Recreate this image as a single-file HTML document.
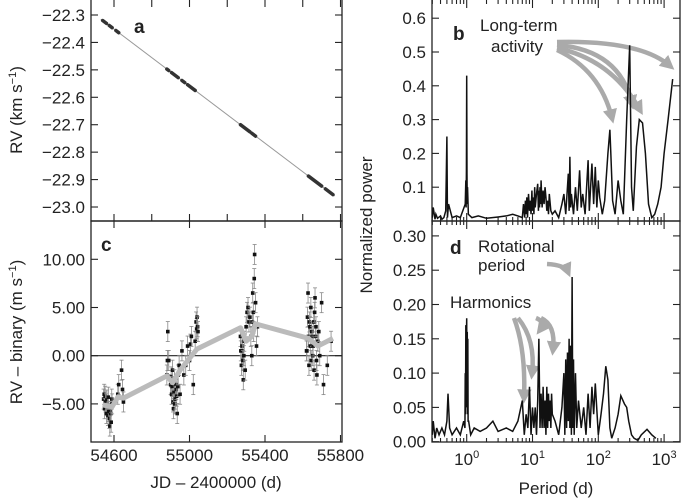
<!DOCTYPE html>
<html><head><meta charset="utf-8"><style>
html,body{margin:0;padding:0;background:#fff;}
svg{display:block;font-family:"Liberation Sans",Arial,sans-serif;}
</style></head><body>
<svg id="fig" width="685" height="498" viewBox="0 0 685 498" xmlns="http://www.w3.org/2000/svg">
<defs>
<marker id="ah" viewBox="0 0 10 10" refX="6" refY="5" markerWidth="3.2" markerHeight="3.2" orient="auto"><path d="M0,0 L10,5 L0,10 z" fill="#aaa"/></marker>
</defs>
<g id="static">
<text transform="translate(22,110) rotate(-90)" font-size="17" text-anchor="middle" fill="#222">RV (km s<tspan font-size="11" dy="-6">−1</tspan><tspan dy="6">)</tspan></text>
<text transform="translate(22,332) rotate(-90)" font-size="17" text-anchor="middle" fill="#222">RV – binary (m s<tspan font-size="11" dy="-6">−1</tspan><tspan dy="6">)</tspan></text>
<text x="216" y="488" font-size="17" text-anchor="middle" fill="#222">JD – 2400000 (d)</text>
<text transform="translate(372,225) rotate(-90)" font-size="17" text-anchor="middle" fill="#222">Normalized power</text>
<text x="556" y="494" font-size="17" text-anchor="middle" fill="#222">Period (d)</text>
<text x="134" y="33" font-size="19" font-weight="bold" fill="#222">a</text>
<text x="101" y="251" font-size="19" font-weight="bold" fill="#222">c</text>
<text x="453" y="40" font-size="19" font-weight="bold" fill="#222">b</text>
<text x="450" y="254" font-size="19" font-weight="bold" fill="#222">d</text>
<text font-size="17" fill="#222"><tspan x="480" y="31">Long-term</tspan><tspan x="491" y="52">activity</tspan></text>
<text font-size="17" fill="#222"><tspan x="478" y="252">Rotational</tspan><tspan x="478" y="271">period</tspan></text>
<text x="450" y="308" font-size="17" fill="#222">Harmonics</text>
</g>
<g id="arrows" fill="none" stroke="#aaa" stroke-width="4.5" marker-end="url(#ah)">
<path d="M557,42 Q640,40 670,66"/>
<path d="M557,45 Q620,50 632,104"/>
<path d="M557,48 Q612,60 640,110"/>
<path d="M557,50 Q600,70 612,118"/>
<path d="M547,264 Q565,265 568,272"/>
<path d="M514,318 Q526,350 524,398"/>
<path d="M518,318 Q536,340 532,374"/>
<path d="M536,318 Q546,322 540,330"/>
<path d="M541,318 Q556,325 553,350"/>
</g>
<g id="plots"></g>
</svg>
<script>
// ---------- data ----------
const aTicks=[-22.3,-22.4,-22.5,-22.6,-22.7,-22.8,-22.9,-23.0];
const cTicks=[10,5,0,-5];
const cTickLabels=["10.00","5.00","0.00","-5.00"];
const jdTicks=[54600,55000,55400,55800];
const bTicks=[0.1,0.2,0.3,0.4,0.5,0.6];
const dTicks=[0,0.05,0.1,0.15,0.2,0.25,0.3];
const dTickLabels=["0.00","0.05","0.10","0.15","0.20","0.25","0.30"];
const binaryLine=[[54530,-22.315],[55770,-22.96]];
const aSegments=[[54540,54560],[54575,54590],[54610,54625],[54880,54890],[54905,54940],[54960,54975],[54990,55030],[55270,55320],[55330,55350],[55630,55700],[55720,55760]];
const modelJD=[54540,54590,54620,54650,54880,54910,54950,55040,55270,55300,55330,55350,55630,55680,55760];
const modelRV=[-5.1,-5.3,-4.3,-4.4,-2.1,-2.8,-1.5,0.7,2.9,1.5,2.0,3.3,1.8,1.0,1.8];
const obsJD=[54545,54548,54550,54553,54555,54558,54560,54562,54565,54568,54570,54572,54575,54578,54580,54583,54585,54588,54590,54620,54625,54640,54645,54650,54880,54883,54885,54890,54900,54903,54905,54908,54910,54913,54915,54918,54920,54922,54925,54928,54930,54932,54935,54938,54940,54945,54950,54960,54970,54980,54990,55000,55005,55010,55020,55030,55035,55038,55040,55043,55045,55270,55272,55275,55278,55280,55283,55285,55288,55290,55295,55300,55305,55310,55315,55320,55325,55330,55333,55335,55338,55340,55343,55345,55350,55355,55360,55620,55622,55625,55628,55630,55633,55635,55638,55640,55643,55645,55648,55650,55653,55655,55658,55660,55663,55665,55668,55670,55673,55675,55680,55685,55690,55700,55710,55730,55750];
const obsRV=[-4.5,-4.0,-5.5,-4.2,-4.8,-5.0,-6.0,-4.6,-5.2,-6.2,-4.3,-5.8,-6.5,-7.3,-5.8,-6.0,-6.9,-4.5,-5.0,-4.0,-3.0,-1.5,-3.5,-4.8,-2.0,-0.5,2.5,-0.5,-3.0,-2.2,-4.0,-3.2,-1.5,-4.8,-5.5,-3.8,-2.5,-5.0,-4.5,-3.0,-3.5,-4.2,-6.0,-3.2,-2.0,-1.0,-4.0,0.5,-2.0,-1.0,1.0,-0.5,1.2,2.0,-3.0,1.5,3.5,2.8,4.0,3.0,2.5,2.0,0.5,-1.0,1.0,0.5,-0.5,-2.5,0.0,1.5,-1.5,3.0,4.5,5.0,3.5,4.0,2.0,0.0,3.5,6.5,4.5,2.5,8.0,10.5,5.5,1.0,3.0,0.5,0.5,4.0,6.5,2.0,-1.0,3.5,3.0,1.0,5.0,-0.5,2.5,2.0,0.0,1.0,3.5,-1.5,4.5,6.0,2.0,3.0,-0.5,-2.0,1.5,2.5,0.0,5.5,-3.0,-1.0,1.5,0.5];
const bPeriod=[0.3,0.31,0.33,0.34,0.36,0.4,0.42,0.45,0.48,0.5,0.51,0.53,0.6,0.7,0.8,0.95,0.97,0.98,0.99,1.0,1.01,1.02,1.03,1.06,1.2,1.5,2,3,4,5,6,7,7.3,7.6,7.8,8,8.2,8.4,8.7,9,9.2,9.5,9.8,10,10.3,10.5,10.8,11,11.5,12,12.3,12.5,12.8,13,13.3,13.5,14,14.5,15,15.5,16,16.5,17,17.5,18,19,20,22,25,28,30,32,35,36,37,38,39,42,45,48,52,55,58,63,70,73,80,85,90,95,100,105,115,125,140,150,155,165,180,200,220,240,270,300,320,340,380,420,470,520,580,650,720,800,900,1000,1150,1350];
const bPower=[0.01,0.04,0.005,0.02,0.008,0.015,0.005,0.01,0.03,0.25,0.01,0.05,0.01,0.015,0.01,0.05,0.12,0.04,0.15,0.43,0.14,0.05,0.1,0.02,0.01,0.015,0.008,0.012,0.015,0.02,0.015,0.01,0.05,0.01,0.06,0.02,0.07,0.01,0.08,0.03,0.06,0.02,0.09,0.03,0.07,0.02,0.1,0.04,0.08,0.11,0.03,0.09,0.04,0.1,0.05,0.12,0.04,0.09,0.05,0.1,0.07,0.03,0.06,0.02,0.08,0.03,0.02,0.03,0.01,0.05,0.08,0.02,0.14,0.03,0.19,0.04,0.08,0.02,0.1,0.03,0.15,0.04,0.08,0.02,0.18,0.03,0.17,0.05,0.16,0.04,0.12,0.07,0.02,0.06,0.2,0.27,0.2,0.06,0.02,0.12,0.06,0.02,0.3,0.52,0.1,0.03,0.22,0.3,0.29,0.2,0.05,0.01,0.02,0.05,0.1,0.2,0.3,0.42];
const dPeriod=[0.3,0.31,0.33,0.35,0.38,0.42,0.46,0.5,0.52,0.55,0.6,0.7,0.8,0.9,0.94,0.95,0.96,0.97,0.98,0.99,1.0,1.01,1.02,1.03,1.04,1.05,1.07,1.15,1.3,1.6,2,2.5,3,4,5,6,7,7.5,8,8.5,9,9.5,10,10.5,11,11.5,12,12.5,13,13.5,14,14.5,15,15.5,16,16.5,17,17.5,18,18.5,19,19.5,20,22,25,28,30,31,32,33,34,35,36,37,38,39,40,41,42,43,45,47,50,55,60,65,70,75,80,85,90,100,110,120,130,140,150,160,180,200,220,250,270,290,320,350,400,450,550,650,750,850,1000,1300];
const dPower=[0.01,0.03,0.005,0.02,0.01,0.02,0.01,0.03,0.07,0.02,0.01,0.02,0.01,0.03,0.02,0.1,0.04,0.17,0.06,0.15,0.18,0.05,0.16,0.04,0.15,0.03,0.03,0.01,0.02,0.015,0.02,0.03,0.015,0.02,0.015,0.03,0.06,0.01,0.04,0.02,0.08,0.01,0.05,0.02,0.05,0.01,0.06,0.15,0.02,0.07,0.02,0.08,0.02,0.06,0.01,0.08,0.02,0.07,0.03,0.06,0.02,0.07,0.04,0.03,0.01,0.05,0.1,0.01,0.12,0.02,0.13,0.03,0.15,0.02,0.14,0.01,0.24,0.02,0.12,0.01,0.1,0.02,0.06,0.02,0.05,0.01,0.07,0.02,0.08,0.04,0.085,0.01,0.04,0.07,0.11,0.09,0.02,0.005,0.02,0.04,0.067,0.055,0.05,0.03,0.01,0.005,0.002,0.01,0.018,0.01,0.005];

// ---------- scales ----------
const NS="http://www.w3.org/2000/svg";
const plots=document.getElementById('plots');
function mk(tag,attrs,parent){const e=document.createElementNS(NS,tag);for(const k in attrs)e.setAttribute(k,attrs[k]);(parent||plots).appendChild(e);return e;}
const L=91,R=342,PL=432,PR=680;
const xJD=d=>114+(d-54600)*75.5/400;
const yA=v=>15+(-22.3-v)*274.3;
const yC=v=>355.7-v*9.64;
const xP=p=>466.7+Math.log10(p)*65.8;
const yB=v=>221-v*338;
const yD=v=>441.7-v*686;

function frame(x0,y0,x1,y1,name){const r=mk('rect',{x:x0,y:y0,width:x1-x0,height:y1-y0,fill:'none',stroke:'#222','stroke-width':1.3});}
function txt(x,y,s,anchor,name){const t=mk('text',{x:x,y:y,'font-size':17,'text-anchor':anchor,fill:'#222'});t.textContent=s;return t;}
function tick(x1,y1,x2,y2){mk('line',{x1:x1,y1:y1,x2:x2,y2:y2,stroke:'#222','stroke-width':1.1});}
function pts(xs,ys,fx,fy){const n=Math.min(xs.length,ys.length);const out=[];for(let i=0;i<n;i++)out.push(fx(xs[i])+','+fy(ys[i]));return out.join(' ');}

// Panel a
frame(L,-1,R,221,'panel-a-frame');
aTicks.forEach(v=>{const y=yA(v);tick(L,y,L+7,y);tick(R,y,R-7,y);txt(L-6,y+6,v.toFixed(1).replace('-','−'),'end','a-y-tick-label');});
for(let d=54600;d<=55800;d+=200){const x=xJD(d);tick(x,0,x,7);tick(x,221,x,214);}
const bl=mk('line',{x1:xJD(binaryLine[0][0]),y1:yA(binaryLine[0][1]),x2:xJD(binaryLine[1][0]),y2:yA(binaryLine[1][1]),stroke:'#999','stroke-width':1});


const slope=(binaryLine[1][1]-binaryLine[0][1])/(binaryLine[1][0]-binaryLine[0][0]);
aSegments.forEach(s=>{const v0=binaryLine[0][1]+slope*(s[0]-binaryLine[0][0]),v1=binaryLine[0][1]+slope*(s[1]-binaryLine[0][0]);
 const e=mk('line',{x1:xJD(s[0]),y1:yA(v0),x2:xJD(s[1]),y2:yA(v1),stroke:'#333','stroke-width':3.5,'stroke-linecap':'round'});
 
 });

// Panel c
frame(L,221,R,442,'panel-c-frame');
cTicks.forEach((v,i)=>{const y=yC(v);tick(L,y,L+7,y);tick(R,y,R-7,y);txt(L-6,y+6,cTickLabels[i].replace('-','−'),'end','c-y-tick-label');});
jdTicks.forEach(d=>{const x=xJD(d);tick(x,442,x,435);tick(x,221,x,228);txt(x,461,String(d),'middle','c-x-tick-label');});
const zl=mk('line',{x1:L,y1:yC(0),x2:R,y2:yC(0),stroke:'#222','stroke-width':1.2});


obsJD.forEach((d,i)=>{if(i>=obsRV.length)return;const x=xJD(d),y=yC(obsRV[i]);
 mk('line',{x1:x,y1:y-10,x2:x,y2:y+10,stroke:'#888','stroke-width':0.8});
 mk('line',{x1:x-2,y1:y-10,x2:x+2,y2:y-10,stroke:'#888','stroke-width':0.8});
 mk('line',{x1:x-2,y1:y+10,x2:x+2,y2:y+10,stroke:'#888','stroke-width':0.8});
 const p=mk('rect',{x:x-1.8,y:y-1.8,width:3.6,height:3.6,fill:'#111'});
 
 });
const mp=mk('polyline',{points:pts(modelJD,modelRV,xJD,yC),fill:'none',stroke:'#bbb','stroke-width':5,'stroke-linejoin':'round'});



// Panels b,d
function logTicks(y,dir){for(let e=-1;e<=3;e++)for(let m=1;m<10;m++){const p=m*Math.pow(10,e);const x=xP(p);if(x<PL||x>PR)continue;const len=m===1?8:4;tick(x,y,x,y+dir*len);}}
frame(PL,-1,PR,221,'panel-b-frame');
bTicks.forEach(v=>{const y=yB(v);tick(PL,y,PL+7,y);tick(PR,y,PR-7,y);txt(PL-6,y+6,v.toFixed(1),'end','b-y-tick-label');});
logTicks(0,1);logTicks(221,-1);
const bp=mk('polyline',{points:pts(bPeriod,bPower,xP,yB),fill:'none',stroke:'#111','stroke-width':1.5});


frame(PL,221,PR,442,'panel-d-frame');
dTicks.forEach((v,i)=>{const y=yD(v);tick(PL,y,PL+7,y);tick(PR,y,PR-7,y);txt(PL-6,y+6,dTickLabels[i],'end','d-y-tick-label');});
logTicks(221,1);logTicks(442,-1);
const dp=mk('polyline',{points:pts(dPeriod,dPower,xP,yD),fill:'none',stroke:'#111','stroke-width':1.5});


[0,1,2,3].forEach(e=>{const t=txt(xP(Math.pow(10,e)),465,'10','middle','period-x-tick-label');const s=document.createElementNS(NS,'tspan');s.setAttribute('font-size','11');s.setAttribute('dy','-7');s.textContent=String(e);t.appendChild(s);});
</script>
</body></html>
